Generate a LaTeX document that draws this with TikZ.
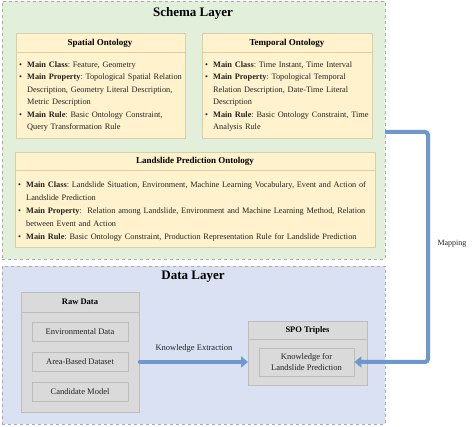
\documentclass[tikz,border=0pt]{standalone}
\usepackage{fontspec}
\setmainfont{Liberation Serif}
\usetikzlibrary{arrows.meta,positioning}
\definecolor{schemafill}{HTML}{E2EFDA}
\definecolor{datafill}{HTML}{DAE1F3}
\definecolor{layerline}{HTML}{ABABAB}
\definecolor{ontofill}{HTML}{FFF2CC}
\definecolor{ontoline}{HTML}{D9CFA6}
\definecolor{grayfill}{HTML}{DADADA}
\definecolor{grayline}{HTML}{BCBCBC}
\definecolor{arrowblue}{HTML}{6E98CD}
\definecolor{bodytext}{HTML}{222222}
\frenchspacing
\newcommand{\bul}[2]{\noindent\hangindent=8pt\hangafter=1\makebox[8pt][l]{\textbullet}\textbf{#1}: #2\par}
\tikzset{
  layerbox/.style={draw=layerline, dashed, line width=0.6pt, anchor=north west, inner sep=0pt},
  ontobox/.style={draw=ontoline, fill=ontofill, line width=0.8pt, anchor=north west, inner sep=0pt},
  graybox/.style={draw=grayline, fill=grayfill, line width=0.8pt, anchor=north west, inner sep=0pt},
  layertitle/.style={font=\fontsize{13}{15}\selectfont\bfseries},
  boxtitle/.style={font=\fontsize{9}{11}\selectfont\bfseries},
  bodylist/.style={anchor=north west, inner sep=0pt, align=left, text=bodytext,
     font=\fontsize{8.3}{12.4}\selectfont\frenchspacing},
  subtext/.style={font=\fontsize{8.5}{11}\selectfont, text=bodytext},
  bigarrow/.style={draw=arrowblue, line width=4pt, -{Triangle[width=11pt,length=7pt]}},
}
\begin{document}
\begin{tikzpicture}[x=1pt,y=-1pt]
\useasboundingbox (0,0) rectangle (474,427);
% layers
\node[layerbox, fill=schemafill, minimum width=383pt, minimum height=258pt] (schema) at (2,1) {};
\node[layerbox, fill=datafill, minimum width=383pt, minimum height=158pt] (data) at (2,266) {};
\node[layertitle] (schematitle) at (193,13) {Schema Layer};
\node[layertitle] (datatitle) at (193,277) {Data Layer};

% spatial ontology
\node[ontobox, minimum width=169pt, minimum height=105pt] (sp) at (16,33) {};
\draw[ontoline, line width=0.8pt] ([yshift=-19pt]sp.north west) -- ([yshift=-19pt]sp.north east);
\node[boxtitle] (sptitle) at (100,43) {Spatial Ontology};
\node[bodylist, text width=175pt] (splist) at (19,61.5) {%
\bul{Main Class}{Feature, Geometry}
\bul{Main Property}{Topological Spatial Relation\newline Description, Geometry Literal Description,\newline Metric Description}
\bul{Main Rule}{Basic Ontology Constraint,\newline Query Transformation Rule}};

% temporal ontology
\node[ontobox, minimum width=170pt, minimum height=105pt] (tp) at (202,33) {};
\draw[ontoline, line width=0.8pt] ([yshift=-19pt]tp.north west) -- ([yshift=-19pt]tp.north east);
\node[boxtitle] (tptitle) at (287,43) {Temporal Ontology};
\node[bodylist, text width=175pt] (tplist) at (205,61.5) {%
\bul{Main Class}{Time Instant, Time Interval}
\bul{Main Property}{Topological Temporal\newline Relation Description, Date-Time Literal\newline Description}
\bul{Main Rule}{Basic Ontology Constraint, Time\newline Analysis Rule}};

% landslide prediction ontology
\node[ontobox, minimum width=360pt, minimum height=95pt] (lp) at (15,152) {};
\draw[ontoline, line width=0.8pt] ([yshift=-18pt]lp.north west) -- ([yshift=-18pt]lp.north east);
\node[boxtitle] (lptitle) at (195,161) {Landslide Prediction Ontology};
\node[bodylist, text width=370pt, font=\fontsize{8.3}{13}\selectfont\frenchspacing] (lplist) at (18,181) {%
\bul{Main Class}{Landslide Situation, Environment, Machine Learning Vocabulary, Event and Action of\newline Landslide Prediction}
\bul{Main Property}{\ Relation among Landslide, Environment and Machine Learning Method, Relation\newline between Event and Action}
\bul{Main Rule}{Basic Ontology Constraint, Production Representation Rule for Landslide Prediction}};

% raw data
\node[graybox, minimum width=118pt, minimum height=120pt] (raw) at (21,292) {};
\draw[grayline, line width=0.8pt] ([yshift=-20pt]raw.north west) -- ([yshift=-20pt]raw.north east);
\node[boxtitle, font=\fontsize{8.5}{10}\selectfont\bfseries] (rawtitle) at (80,302) {Raw Data};
\node[graybox, minimum width=96pt, minimum height=19pt, anchor=center, subtext] (env) at (80,331.5) {Environmental Data};
\node[graybox, minimum width=96pt, minimum height=19pt, anchor=center, subtext] (area) at (80,361.5) {Area-Based Dataset};
\node[graybox, minimum width=96pt, minimum height=19pt, anchor=center, subtext] (cand) at (80,391.5) {Candidate Model};

% SPO triples
\node[graybox, minimum width=119pt, minimum height=64pt] (spo) at (248,321) {};
\draw[grayline, line width=0.8pt] ([yshift=-18pt]spo.north west) -- ([yshift=-18pt]spo.north east);
\node[boxtitle, font=\fontsize{8.5}{10}\selectfont\bfseries] (spotitle) at (307.5,330) {SPO Triples};
\node[graybox, minimum width=95pt, minimum height=28pt, anchor=center, subtext, align=center,
      font=\fontsize{8.5}{11}\selectfont] (kn) at (306.5,362) {Knowledge for\\Landslide Prediction};

% arrows
\draw[bigarrow, line cap=round] (raw.east |- kn.center) -- (spo.west |- kn.center)
  node[midway, above=4pt, subtext, text=bodytext] (kelabel) {Knowledge Extraction};
\coordinate (mapstart) at (385,132);
\coordinate (mapc1) at (428,132);
\coordinate (mapc2) at (428,362);
\draw[bigarrow, rounded corners=3pt] (mapstart) -- (mapc1) -- (mapc2) -- (kn.east);
\node[subtext, font=\fontsize{8}{10}\selectfont] (maplabel) at (452,244) {Mapping};
\end{tikzpicture}
\end{document}
